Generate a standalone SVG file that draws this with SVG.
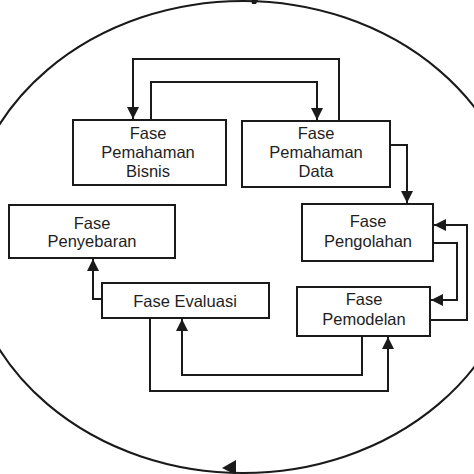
<svg xmlns="http://www.w3.org/2000/svg" width="474" height="474" viewBox="0 0 474 474">
<defs>
<marker id="ah" markerWidth="13" markerHeight="12" refX="12" refY="6" orient="auto" markerUnits="userSpaceOnUse">
<path d="M0,0 L12,6 L0,12 Z" fill="#1a1a1a"/>
</marker>
</defs>
<style>
.box{fill:#fff;stroke:#1a1a1a;stroke-width:2}
.ln{fill:none;stroke:#1a1a1a;stroke-width:2}
text{font-family:"Liberation Sans",Arial,sans-serif;font-size:16.5px;fill:#1e1e1e;text-anchor:middle}
</style>
<rect width="474" height="474" fill="#fff"/>
<g id="cycle">
<ellipse cx="243" cy="237" rx="277" ry="236" class="ln"/>
<path d="M222,468 L236,460 L236,475 Z" fill="#1a1a1a"/>
<path d="M251,-2 L259,-2 L256,4 L252,4 Z" fill="#1a1a1a"/>
</g>
<g id="connectors">
<path class="ln" d="M339,121 V59 H133 V119" marker-end="url(#ah)"/>
<path class="ln" d="M151,120 V82 H317 V120" marker-end="url(#ah)"/>
<path class="ln" d="M390,145 H407 V203" marker-end="url(#ah)"/>
<path class="ln" d="M430,320 H467 V225 H434" marker-end="url(#ah)"/>
<path class="ln" d="M433,243 H457 V300 H431" marker-end="url(#ah)"/>
<path class="ln" d="M150,318 V391 H388 V337" marker-end="url(#ah)"/>
<path class="ln" d="M362,336 V375 H182 V319" marker-end="url(#ah)"/>
<path class="ln" d="M102,299 H93 V259" marker-end="url(#ah)"/>
</g>
<g id="bisnis">
<rect class="box" x="73" y="120" width="153" height="65"/>
<text x="148" y="139">Fase</text>
<text x="148" y="158">Pemahaman</text>
<text x="148" y="177">Bisnis</text>
</g>
<g id="data">
<rect class="box" x="242" y="121" width="148" height="66"/>
<text x="316" y="139">Fase</text>
<text x="316" y="158">Pemahaman</text>
<text x="316" y="177">Data</text>
</g>
<g id="penyebaran">
<rect class="box" x="9" y="205" width="166" height="53"/>
<text x="92" y="229">Fase</text>
<text x="92" y="247">Penyebaran</text>
</g>
<g id="evaluasi">
<rect class="box" x="102" y="283" width="167" height="35"/>
<text x="185" y="307">Fase Evaluasi</text>
</g>
<g id="pengolahan">
<rect class="box" x="302" y="204" width="131" height="57"/>
<text x="368" y="227">Fase</text>
<text x="368" y="247">Pengolahan</text>
</g>
<g id="pemodelan">
<rect class="box" x="297" y="287" width="133" height="49"/>
<text x="364" y="305">Fase</text>
<text x="364" y="325">Pemodelan</text>
</g>
</svg>
